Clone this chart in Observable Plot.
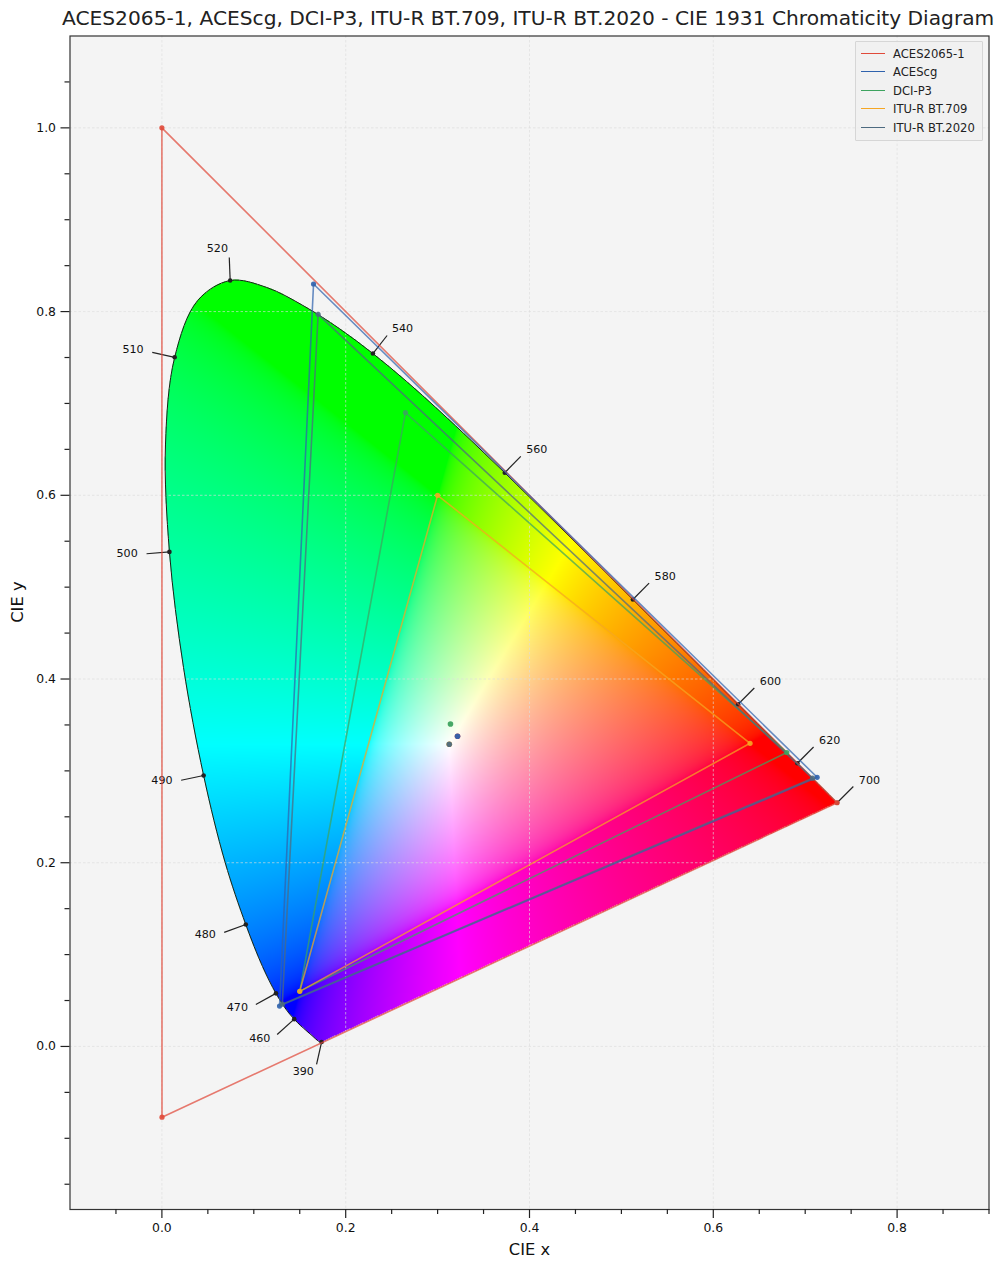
<!DOCTYPE html>
<html><head><meta charset="utf-8">
<script src="https://cdn.jsdelivr.net/npm/d3@7"></script>
<script src="https://cdn.jsdelivr.net/npm/@observablehq/plot@0.6"></script>
<style>
html,body{margin:0;padding:0;background:#fff;font-family:"DejaVu Sans",sans-serif;color:#222}
#wrap{position:relative;width:1004px;height:1270px;overflow:hidden}
#title{height:35px;line-height:36px;font-size:20.2px;white-space:nowrap;padding-left:62px;box-sizing:border-box;color:#222}
#legend{position:absolute;left:855px;top:41px;width:128px;height:100px;box-sizing:border-box;background:rgba(240,240,240,.85);border:1px solid #d6d6d6;font-size:11.6px;border-radius:1px}
.row{position:absolute;left:0;height:18px;line-height:18px;white-space:nowrap}
.row i{position:absolute;left:5px;top:8px;width:24px;height:1px}
.row span{position:absolute;left:37px}
svg{display:block}
</style></head><body>
<div id="wrap"><div id="title"></div><div id="chart"></div><div id="legend"></div></div>
<script>
const chartTitle = "ACES2065-1, ACEScg, DCI-P3, ITU-R BT.709, ITU-R BT.2020 - CIE 1931 Chromaticity Diagram";
const locusWavelengths = [380,385,390,395,400,405,410,415,420,425,430,435,440,445,450,455,460,465,470,475,480,485,490,495,500,505,510,515,520,525,530,535,540,545,550,555,560,565,570,575,580,585,590,595,600,605,610,615,620,625,630,635,640,645,650,655,660,665,670,675,680,690,700];
const locusX = [.1741,.1740,.1738,.1736,.1733,.1730,.1726,.1721,.1714,.1703,.1689,.1669,.1644,.1611,.1566,.1510,.1440,.1355,.1241,.1096,.0913,.0687,.0454,.0235,.0082,.0039,.0139,.0389,.0743,.1142,.1547,.1929,.2296,.2658,.3016,.3373,.3731,.4087,.4441,.4788,.5125,.5448,.5752,.6029,.6270,.6482,.6658,.6801,.6915,.7006,.7079,.7140,.7190,.7230,.7260,.7283,.7300,.7311,.7320,.7327,.7334,.7344,.7347];
const locusY = [.0050,.0050,.0049,.0049,.0048,.0048,.0048,.0048,.0051,.0058,.0069,.0086,.0109,.0138,.0177,.0227,.0297,.0399,.0578,.0868,.1327,.2007,.2950,.4127,.5384,.6548,.7502,.8120,.8338,.8262,.8059,.7816,.7543,.7243,.6923,.6589,.6245,.5896,.5547,.5202,.4866,.4544,.4242,.3965,.3725,.3514,.3340,.3197,.3083,.2993,.2920,.2859,.2809,.2770,.2740,.2717,.2700,.2689,.2680,.2673,.2666,.2656,.2653];
const labelledWavelengths = [390,460,470,480,490,500,510,520,540,560,580,600,620,700];
const normalOverrides = {390:[-.22,-.975],520:[-.04,.999]};

const gamutNames = ["ACES2065-1","ACEScg","DCI-P3","ITU-R BT.709","ITU-R BT.2020"];
const gamutColors = ["#e04a3a","#2f62ad","#3da35f","#f5a623","#4d6a80"];
const primariesX = [[.7347,0,.0001],[.713,.165,.128],[.68,.265,.15],[.64,.30,.15],[.708,.170,.131]];
const primariesY = [[.2653,1,-.077],[.293,.83,.044],[.32,.69,.06],[.33,.60,.06],[.292,.797,.046]];
const whiteX = [.32168,.32168,.314,.3127,.3127];
const whiteY = [.33767,.33767,.351,.329,.329];

const xMajor = [0,.2,.4,.6,.8];
const xMinor = [-.05,.05,.1,.15,.25,.3,.35,.45,.5,.55,.65,.7,.75,.85,.9];
const yMajor = [0,.2,.4,.6,.8,1];
const yMinor = [-.15,-.1,-.05,.05,.1,.15,.25,.3,.35,.45,.5,.55,.65,.7,.75,.85,.9,.95,1.05];

const locus = locusWavelengths.map((w,i)=>({w,x:locusX[i],y:locusY[i]}));
const gamutEdges = gamutNames.map((name,k)=>[0,1,2,0].map(j=>({name,x:primariesX[k][j],y:primariesY[k][j]})));
const gamutPoints = gamutNames.flatMap((name,k)=>[0,1,2].map(j=>({name,x:primariesX[k][j],y:primariesY[k][j]})));
const whites = gamutNames.map((name,k)=>({name,x:whiteX[k],y:whiteY[k]}));

// outward normal of the locus at each labelled wavelength, from neighbouring samples
const labels = labelledWavelengths.map(w=>{
  const i = locusWavelengths.indexOf(w), a = locus[Math.max(0,i-1)], b = locus[Math.min(locus.length-1,i+1)], p = locus[i];
  let nx = b.y-a.y, ny = -(b.x-a.x), l = Math.hypot(nx,ny); nx/=l; ny/=l;
  if (nx*(p.x-.33)+ny*(p.y-.33)<0){nx=-nx;ny=-ny;}
  if (normalOverrides[w]) [nx,ny]=normalOverrides[w];
  return {w,x:p.x,y:p.y,tx:p.x+nx*.025,ty:p.y+ny*.025,lx:p.x+nx*.0335,ly:p.y+ny*.0335,left:nx<0};
});

// chromaticity -> sRGB, normalised to its maximum
const ctx = document.createElement("canvas").getContext("2d");
const locusPath = new Path2D(d3.line().curve(d3.curveCatmullRom)(locus.map(d=>[d.x*1000,d.y*1000]))+"Z");
const enc = v=> v<=.0031308 ? 12.92*v : 1.055*Math.pow(v,1/2.4)-.055;
function chromaColor(x,y){
  if(y<=0||!ctx.isPointInPath(locusPath,x*1000,y*1000)) return null;
  const X=x/y,Z=(1-x-y)/y;
  let r=3.2406*X-1.5372-.4986*Z, g=-.9689*X+1.8758+.0415*Z, b=.0557*X-.2040+1.0570*Z;
  r=Math.max(r,0);g=Math.max(g,0);b=Math.max(b,0);
  const m=Math.max(r,g,b)||1;
  return `rgb(${Math.round(enc(r/m)*255)},${Math.round(enc(g/m)*255)},${Math.round(enc(b/m)*255)})`;
}

const ink="#262626", gridColor="#dcdcdc", noLabel=()=>"";
const chart = Plot.plot({
  width:1004,height:1235,marginLeft:69.5,marginRight:15.5,marginTop:0.5,marginBottom:61,
  x:{domain:[-.1,.9]},y:{domain:[-.1775,1.1]},
  color:{type:"identity"},
  style:{fontFamily:"DejaVu Sans",background:"#fff",color:ink},
  marks:[
    Plot.frame({fill:"#f4f4f4",stroke:null}),
    Plot.raster({x1:-.01,x2:.75,y1:-.01,y2:.85,width:698,height:790,fill:chromaColor}),
    Plot.gridX(xMajor,{stroke:gridColor,strokeOpacity:.8,strokeWidth:.8,strokeDasharray:"2.5,2"}),
    Plot.gridY(yMajor,{stroke:gridColor,strokeOpacity:.8,strokeWidth:.8,strokeDasharray:"2.5,2"}),
    Plot.line(locus,{x:"x",y:"y",curve:"catmull-rom",stroke:"#112211",strokeWidth:1}),
    Plot.link(labels,{x1:"x",y1:"y",x2:"tx",y2:"ty",stroke:"#222",strokeWidth:1.2}),
    Plot.dot(labels,{x:"x",y:"y",r:2.3,fill:"#222"}),
    Plot.text(labels,{filter:d=>d.left,x:"lx",y:"ly",text:d=>String(d.w),textAnchor:"end",dx:-1,dy:-1,fontSize:11.1,fill:"#111"}),
    Plot.text(labels,{filter:d=>!d.left,x:"lx",y:"ly",text:d=>String(d.w),textAnchor:"start",dy:-1,fontSize:11.1,fill:"#111"}),
    ...gamutEdges.map((e,k)=>Plot.line(e,{x:"x",y:"y",stroke:gamutColors[k],strokeWidth:1.6,strokeOpacity:.72})),
    Plot.dot(gamutPoints,{x:"x",y:"y",r:2.6,fill:d=>gamutColors[gamutNames.indexOf(d.name)],fillOpacity:.9}),
    Plot.dot(whites,{x:"x",y:"y",r:2.8,fill:d=>gamutColors[gamutNames.indexOf(d.name)],fillOpacity:.95}),
    Plot.frame({stroke:"#333",strokeWidth:1.2}),
    Plot.axisX(xMinor,{tickSize:5,tickFormat:noLabel,label:null,stroke:"#222",strokeWidth:1.2}),
    Plot.axisY(yMinor,{tickSize:5,tickFormat:noLabel,label:null,stroke:"#222",strokeWidth:1.2}),
    Plot.axisX(xMajor,{tickSize:9,tickPadding:5,tickFormat:d3.format(".1f"),label:null,fontSize:12.4,stroke:"#222",strokeWidth:1.2,fill:"#111"}),
    Plot.axisY(yMajor,{tickSize:9,tickPadding:5,tickFormat:d3.format(".1f"),label:null,fontSize:12.4,stroke:"#222",strokeWidth:1.2,fill:"#111"}),
    Plot.text(["CIE x"],{frameAnchor:"bottom",dy:45,fontSize:16.3,fill:"#111"}),
    Plot.text(["CIE y"],{frameAnchor:"left",dx:-52,rotate:-90,fontSize:16.3,fill:"#111"})
  ]
});
document.getElementById("chart").append(chart);
document.getElementById("title").textContent = chartTitle;
const legend=document.getElementById("legend");
gamutNames.forEach((n,k)=>{
  const r=document.createElement("div");r.className="row";r.style.top=Math.round(2.5+k*18.5)+"px";r.style.width="100%";
  const i=document.createElement("i");i.style.background=gamutColors[k];
  const s=document.createElement("span");s.textContent=n;
  r.append(i,s);legend.append(r);
});
</script></body></html>
